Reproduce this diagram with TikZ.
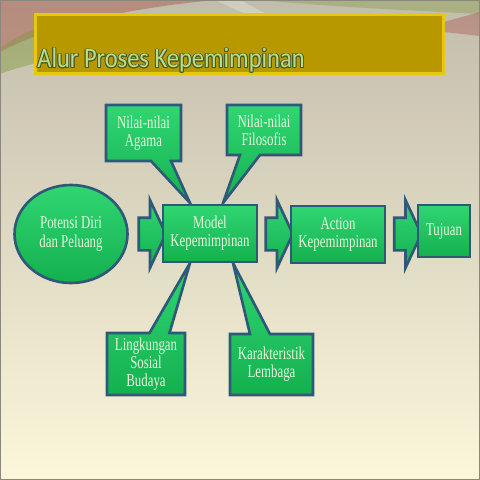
\documentclass[tikz,border=0pt]{standalone}
\usepackage{fontspec}
\newfontfamily\boxfont{Liberation Serif}[FakeStretch=0.71]
\newfontfamily\titlefont{Carlito}[FakeStretch=0.87]
\usepackage{contour}
\usetikzlibrary{shapes.geometric,shapes.arrows,shapes.callouts}

\definecolor{bgtop}{HTML}{C2BCAC}
\definecolor{bgmid}{HTML}{E0DBC3}
\definecolor{bgbot}{HTML}{FCF7DA}
\definecolor{swred}{HTML}{A8524A}
\definecolor{swgreen}{HTML}{7E9A3A}
\definecolor{framegray}{HTML}{8A877E}
\definecolor{barfill}{HTML}{B89800}
\definecolor{baredge}{HTML}{E6C80E}
\definecolor{titlegreen}{HTML}{B5DD8C}
\definecolor{titleline}{HTML}{4F5A22}
\definecolor{boxtop}{HTML}{30D673}
\definecolor{boxbot}{HTML}{14B04E}
\definecolor{boxedge}{HTML}{2E5A78}
\definecolor{boxtext}{HTML}{E6F6DE}

\begin{document}
\begin{tikzpicture}[
  x=0.2mm, y=-0.2mm,
  box/.style={draw=boxedge, line width=1.5pt, shade, top color=boxtop, bottom color=boxbot, align=center, text=boxtext, font=\boxfont\fontsize{10.3}{10.4}\selectfont, inner sep=1pt},
  stepbox/.style={box, rectangle, minimum width=18.8mm, minimum height=11.4mm},
  callbox/.style={box, rectangle callout, callout pointer width=4mm},
  flow/.style={box, single arrow, inner xsep=0pt, inner ysep=3mm, minimum height=5.4mm, single arrow head extend=3.5mm, single arrow tip angle=130},
]

% Background
\useasboundingbox (0,0) rectangle (480,480);
\shade[top color=bgtop, middle color=bgmid, bottom color=bgbot] (0,0) rectangle (480,480);
\fill[swred, opacity=0.45] (0,0) -- (215,0) .. controls (130,8) and (50,25) .. (0,52) -- cycle;
\fill[swgreen, opacity=0.45] (0,48) .. controls (15,38) and (30,30) .. (40,26) -- (40,62) .. controls (25,66) and (10,70) .. (0,74) -- cycle;
\fill[white, opacity=0.25] (215,0) -- (240,0) -- (270,16) -- (250,16) -- cycle;
\fill[swgreen, opacity=0.35] (262,0) -- (480,0) -- (480,14) .. controls (400,10) and (320,6) .. (262,0) -- cycle;
\fill[swred, opacity=0.4] (444,22) -- (480,12) -- (480,36) -- (444,32) -- cycle;
\draw[framegray, line width=0.4mm] (0,0) rectangle (480,480);

% Title bar
\node[draw=baredge, line width=0.6mm, fill=barfill, minimum width=81.4mm, minimum height=11.8mm] (bar) at (239.5,44.5) {};
\node[anchor=base west, inner sep=0pt, font=\titlefont\fontsize{16}{18}\selectfont] (title) at (37,68)
  {\contourlength{0.5pt}\contour{titleline}{\textcolor{titlegreen}{Alur Proses Kepemimpinan}}};

% Pointer tips on the model box
\coordinate (agamatip) at (190,203);
\coordinate (filosofistip) at (223,203);
\coordinate (sosialtip) at (190,263);
\coordinate (lembagatip) at (233,263);

% Callouts
\node[callbox, minimum width=15mm, minimum height=11.2mm, callout absolute pointer={(agamatip)}] (agama) at (143.5,133) {Nilai-nilai\\Agama};
\node[callbox, minimum width=14.8mm, minimum height=10mm, callout absolute pointer={(filosofistip)}] (filosofis) at (264,130) {Nilai-nilai\\Filosofis};
\node[callbox, minimum width=15.6mm, minimum height=12.4mm, callout absolute pointer={(sosialtip)}] (sosial) at (146,364) {Lingkungan\\Sosial\\Budaya};
\node[callbox, minimum width=16.6mm, minimum height=12.2mm, callout absolute pointer={(lembagatip)}] (lembaga) at (271.5,364.5) {Karakteristik\\Lembaga};

% Main flow (left to right)
\node[box, ellipse, minimum width=22.6mm, minimum height=19.6mm] (potensi) at (71,234) {Potensi Diri\\dan Peluang};
\node[flow] (arrowa) at (148.5,234) {};
\node[stepbox] (model) at (210,233.5) {Model\\Kepemimpinan};
\node[flow] (arrowb) at (275.5,234) {};
\node[stepbox] (action) at (338,234.5) {Action\\Kepemimpinan};
\node[flow] (arrowc) at (404,234) {};
\node[box, rectangle, minimum width=10.4mm, minimum height=10.4mm] (tujuan) at (444,231) {Tujuan};

\end{tikzpicture}
\end{document}
